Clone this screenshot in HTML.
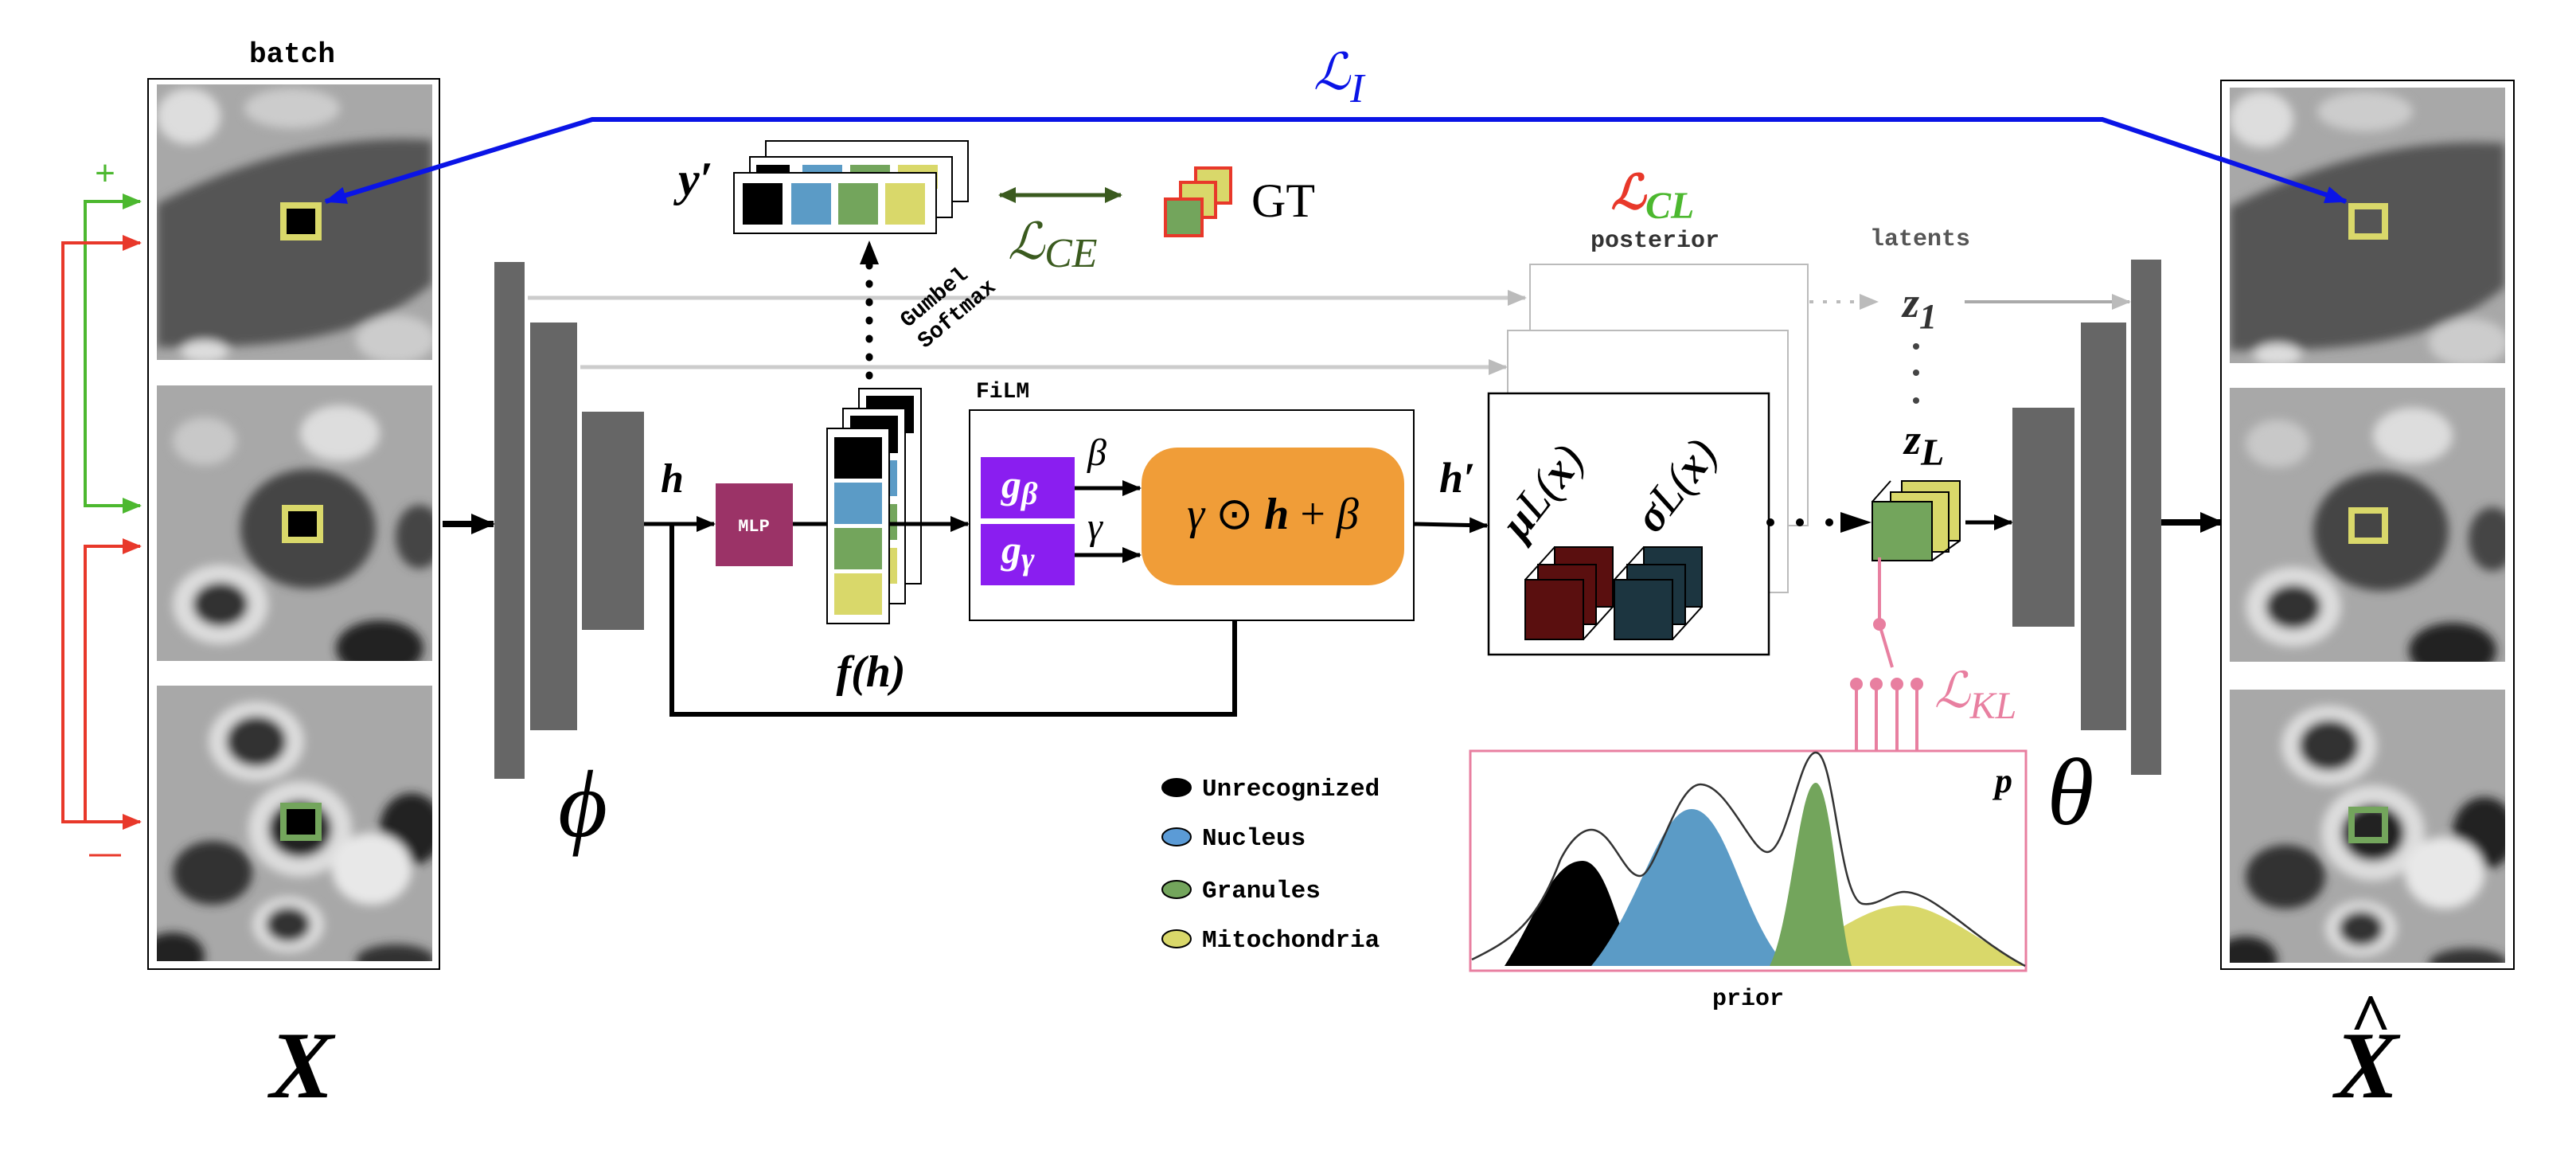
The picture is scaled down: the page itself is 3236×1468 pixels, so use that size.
<!DOCTYPE html>
<html><head><meta charset="utf-8"><style>
html,body{margin:0;padding:0;background:#fff;}
svg{display:block;}
.mono{font-family:"Liberation Mono",monospace;font-weight:bold;}
.m{font-family:"Liberation Serif",serif;font-style:italic;font-weight:bold;}
</style></head><body>
<svg width="3236" height="1468" viewBox="0 0 3236 1468" xmlns="http://www.w3.org/2000/svg">
<defs>
<marker id="akb" markerWidth="30" markerHeight="26" refX="28" refY="13" orient="auto" markerUnits="userSpaceOnUse"><path d="M0,0 L30,13 L0,26z" fill="#000"/></marker>
<marker id="akm" markerWidth="24" markerHeight="20" refX="22" refY="10" orient="auto" markerUnits="userSpaceOnUse"><path d="M0,0 L24,10 L0,20z" fill="#000"/></marker>
<marker id="ag" markerWidth="24" markerHeight="20" refX="22" refY="10" orient="auto" markerUnits="userSpaceOnUse"><path d="M0,0 L24,10 L0,20z" fill="#bbb"/></marker>
<marker id="agr" markerWidth="24" markerHeight="20" refX="22" refY="10" orient="auto" markerUnits="userSpaceOnUse"><path d="M0,0 L24,10 L0,20z" fill="#4cb82f"/></marker>
<marker id="ar" markerWidth="24" markerHeight="20" refX="22" refY="10" orient="auto" markerUnits="userSpaceOnUse"><path d="M0,0 L24,10 L0,20z" fill="#e8382a"/></marker>
<marker id="abl" markerWidth="28" markerHeight="22" refX="26" refY="11" orient="auto" markerUnits="userSpaceOnUse"><path d="M0,0 L28,11 L0,22z" fill="#0a14e6"/></marker>
<marker id="adg" markerWidth="22" markerHeight="20" refX="20" refY="10" orient="auto-start-reverse" markerUnits="userSpaceOnUse"><path d="M0,0 L22,10 L0,20z" fill="#3a5a1e"/></marker>
<filter id="blur"><feGaussianBlur stdDeviation="6"/></filter>
<g id="img1">
<rect width="346" height="346" fill="#a8a8a8"/>
<g filter="url(#blur)">
<ellipse cx="40" cy="40" rx="40" ry="35" fill="#ddd"/>
<ellipse cx="170" cy="30" rx="60" ry="25" fill="#ccc"/>
<path d="M0,150 C80,110 200,60 346,70 L346,250 C250,330 120,330 0,330z" fill="#555"/>
<ellipse cx="300" cy="320" rx="50" ry="30" fill="#ccc"/>
<ellipse cx="60" cy="335" rx="30" ry="14" fill="#ddd"/>
</g></g>
<g id="img2">
<rect width="346" height="346" fill="#a8a8a8"/>
<g filter="url(#blur)">
<ellipse cx="230" cy="60" rx="50" ry="35" fill="#ddd"/>
<ellipse cx="60" cy="70" rx="40" ry="30" fill="#c8c8c8"/>
<ellipse cx="190" cy="180" rx="85" ry="75" fill="#444"/>
<ellipse cx="80" cy="275" rx="60" ry="50" fill="#ddd"/>
<ellipse cx="80" cy="275" rx="35" ry="28" fill="#333"/>
<ellipse cx="280" cy="330" rx="55" ry="35" fill="#222"/>
<ellipse cx="330" cy="190" rx="30" ry="40" fill="#444"/>
</g></g>
<g id="img3">
<rect width="346" height="346" fill="#a8a8a8"/>
<g filter="url(#blur)">
<ellipse cx="125" cy="70" rx="60" ry="50" fill="#ddd"/>
<ellipse cx="125" cy="70" rx="38" ry="32" fill="#333"/>
<ellipse cx="180" cy="180" rx="65" ry="60" fill="#ddd"/>
<ellipse cx="180" cy="180" rx="40" ry="36" fill="#222"/>
<ellipse cx="320" cy="180" rx="40" ry="45" fill="#222"/>
<ellipse cx="270" cy="230" rx="50" ry="45" fill="#e8e8e8"/>
<ellipse cx="70" cy="235" rx="50" ry="40" fill="#333"/>
<ellipse cx="165" cy="300" rx="45" ry="35" fill="#ddd"/>
<ellipse cx="165" cy="300" rx="28" ry="22" fill="#333"/>
<ellipse cx="20" cy="340" rx="40" ry="30" fill="#222"/>
<ellipse cx="300" cy="345" rx="50" ry="20" fill="#333"/>
</g></g>
</defs>

<!-- Left panel -->
<text x="367" y="78" class="mono" font-size="36" text-anchor="middle">batch</text>
<rect x="186" y="99" width="366" height="1118" fill="#fff" stroke="#000" stroke-width="2"/>
<svg x="197" y="106" width="346" height="346"><use href="#img1"/></svg>
<svg x="197" y="484" width="346" height="346"><use href="#img2"/></svg>
<svg x="197" y="861" width="346" height="346"><use href="#img3"/></svg>
<rect x="356" y="258" width="44" height="40" fill="#000" stroke="#d9d86a" stroke-width="8"/>
<rect x="358" y="638" width="44" height="40" fill="#000" stroke="#d9d86a" stroke-width="8"/>
<rect x="356" y="1012" width="44" height="40" fill="#000" stroke="#73a55c" stroke-width="8"/>

<!-- +/- arrows -->
<text x="132" y="232" font-family="Liberation Sans,sans-serif" font-size="44" fill="#4cb82f" text-anchor="middle">+</text>
<line x1="112" y1="1074" x2="152" y2="1074" stroke="#e8382a" stroke-width="3"/>
<polyline points="174,253 107,253 107,635 174,635" fill="none" stroke="#4cb82f" stroke-width="4"/>
<line x1="107" y1="253" x2="176" y2="253" stroke="#4cb82f" stroke-width="4" marker-end="url(#agr)"/>
<line x1="107" y1="635" x2="176" y2="635" stroke="#4cb82f" stroke-width="4" marker-end="url(#agr)"/>
<polyline points="174,305 79,305 79,1032 174,1032" fill="none" stroke="#e8382a" stroke-width="4"/>
<polyline points="174,686 107,686 107,1032" fill="none" stroke="#e8382a" stroke-width="4"/>
<line x1="79" y1="305" x2="176" y2="305" stroke="#e8382a" stroke-width="4" marker-end="url(#ar)"/>
<line x1="107" y1="686" x2="176" y2="686" stroke="#e8382a" stroke-width="4" marker-end="url(#ar)"/>
<line x1="107" y1="1032" x2="176" y2="1032" stroke="#e8382a" stroke-width="4" marker-end="url(#ar)"/>

<text x="379" y="1378" class="m" font-size="120" text-anchor="middle">X</text>

<!-- Blue L_I -->
<polyline points="409,253 744,150 2641,150 2790,200" fill="none" stroke="#0a14e6" stroke-width="6"/>
<line x1="500" y1="225" x2="409" y2="253" stroke="#0a14e6" stroke-width="6" marker-end="url(#abl)"/>
<text x="1650" y="112" font-family="Liberation Serif,serif" font-style="italic" font-size="64" fill="#0a14e6">ℒ<tspan font-size="52" dy="16">I</tspan></text>

<!-- Encoder -->
<line x1="556" y1="658" x2="620" y2="658" stroke="#000" stroke-width="8" marker-end="url(#akb)"/>
<rect x="621" y="329" width="38" height="649" fill="#666"/>
<rect x="666" y="405" width="59" height="512" fill="#666"/>
<rect x="731" y="517" width="78" height="274" fill="#666"/>
<text x="732" y="1050" font-family="Liberation Serif,serif" font-style="italic" font-size="120" text-anchor="middle">ϕ</text>

<!-- gray skip lines -->
<line x1="663" y1="374" x2="1916" y2="374" stroke="#ccc" stroke-width="5" marker-end="url(#ag)"/>
<line x1="729" y1="461" x2="1892" y2="461" stroke="#ccc" stroke-width="5" marker-end="url(#ag)"/>

<!-- h and MLP -->
<text x="830" y="618" class="m" font-size="52">h</text>
<line x1="809" y1="658" x2="897" y2="658" stroke="#000" stroke-width="5" marker-end="url(#akm)"/>
<polyline points="844,658 844,897 1551,897 1551,745" fill="none" stroke="#000" stroke-width="6"/>
<line x1="1551" y1="800" x2="1551" y2="740" stroke="#000" stroke-width="6" marker-end="url(#akm)"/>
<rect x="899" y="607" width="97" height="104" fill="#9b3367"/>
<text x="947" y="667" font-family="Liberation Mono,monospace" font-weight="bold" font-size="22" fill="#fff" text-anchor="middle">MLP</text>
<line x1="996" y1="658" x2="1039" y2="658" stroke="#000" stroke-width="5"/>

<!-- f(h) stack -->
<g stroke="#000" stroke-width="2">
<rect x="1079" y="488" width="78" height="245" fill="#fff"/>
<rect x="1089" y="498" width="58" height="45" fill="#000"/>
<rect x="1059" y="513" width="78" height="245" fill="#fff"/>
<rect x="1069" y="523" width="58" height="45" fill="#000"/>
<rect x="1069" y="578" width="58" height="45" fill="#5b9bc6" stroke="none"/>
<rect x="1069" y="633" width="58" height="45" fill="#73a55c" stroke="none"/>
<rect x="1069" y="688" width="58" height="45" fill="#d9d86a" stroke="none"/>
<rect x="1039" y="538" width="78" height="245" fill="#fff"/>
<rect x="1048" y="549" width="60" height="52" fill="#000" stroke="none"/>
<rect x="1048" y="606" width="60" height="52" fill="#5b9bc6" stroke="none"/>
<rect x="1048" y="663" width="60" height="52" fill="#73a55c" stroke="none"/>
<rect x="1048" y="720" width="60" height="52" fill="#d9d86a" stroke="none"/>
</g>
<text x="1094" y="862" class="m" font-size="56" text-anchor="middle">f(h)</text>
<line x1="1117" y1="658" x2="1216" y2="658" stroke="#000" stroke-width="5" marker-end="url(#akm)"/>

<!-- Gumbel dotted -->
<line x1="1092" y1="472" x2="1092" y2="330" stroke="#000" stroke-width="9" stroke-dasharray="1 22" stroke-linecap="round"/>
<path d="M1080,332 L1092,302 L1104,332z" fill="#000"/>
<g transform="translate(1140,412) rotate(-40)" class="mono" font-size="28">
<text x="0" y="0">Gumbel</text><text x="0" y="34">Softmax</text></g>

<!-- y' cards -->
<g stroke="#000" stroke-width="2">
<rect x="962" y="177" width="254" height="76" fill="#fff"/>
<rect x="942" y="197" width="254" height="76" fill="#fff"/>
<rect x="950" y="207" width="42" height="12" fill="#000" stroke="none"/>
<rect x="1008" y="207" width="50" height="12" fill="#5b9bc6" stroke="none"/>
<rect x="1068" y="207" width="50" height="12" fill="#73a55c" stroke="none"/>
<rect x="1128" y="207" width="50" height="30" fill="#d9d86a" stroke="none"/>
<rect x="922" y="217" width="254" height="76" fill="#fff"/>
<rect x="933" y="230" width="50" height="52" fill="#000" stroke="none"/>
<rect x="994" y="230" width="50" height="52" fill="#5b9bc6" stroke="none"/>
<rect x="1053" y="230" width="50" height="52" fill="#73a55c" stroke="none"/>
<rect x="1112" y="230" width="50" height="52" fill="#d9d86a" stroke="none"/>
</g>
<text x="852" y="245" class="m" font-size="60">y′</text>

<!-- L_CE and GT -->
<line x1="1256" y1="245" x2="1408" y2="245" stroke="#3a5a1e" stroke-width="5" marker-start="url(#adg)" marker-end="url(#adg)"/>
<text x="1266" y="325" font-family="Liberation Serif,serif" font-style="italic" font-size="64" fill="#3a5a1e">ℒ<tspan font-size="52" dy="10">CE</tspan></text>
<rect x="1502" y="211" width="44" height="44" fill="#d9d86a" stroke="#e8382a" stroke-width="4"/>
<rect x="1483" y="229" width="44" height="44" fill="#d9d86a" stroke="#e8382a" stroke-width="4"/>
<rect x="1464" y="250" width="46" height="46" fill="#73a55c" stroke="#e8382a" stroke-width="4"/>
<text x="1572" y="272" font-family="Liberation Serif,serif" font-size="60">GT</text>

<!-- FiLM -->
<text x="1226" y="499" class="mono" font-size="28">FiLM</text>
<rect x="1218" y="515" width="558" height="264" fill="#fff" stroke="#000" stroke-width="2"/>
<rect x="1232" y="574" width="118" height="77" fill="#8a1ef0"/>
<rect x="1232" y="658" width="118" height="77" fill="#8a1ef0"/>
<text x="1258" y="625" class="m" font-size="50" fill="#fff">g<tspan font-size="40" dy="8">β</tspan></text>
<text x="1258" y="707" class="m" font-size="50" fill="#fff">g<tspan font-size="40" dy="8">γ</tspan></text>
<line x1="1350" y1="613" x2="1432" y2="613" stroke="#000" stroke-width="5" marker-end="url(#akm)"/>
<line x1="1350" y1="697" x2="1432" y2="697" stroke="#000" stroke-width="5" marker-end="url(#akm)"/>
<text x="1366" y="584" font-family="Liberation Serif,serif" font-style="italic" font-size="48">β</text>
<text x="1366" y="677" font-family="Liberation Serif,serif" font-style="italic" font-size="48">γ</text>
<rect x="1434" y="562" width="330" height="173" rx="45" fill="#f09d38"/>
<text x="1599" y="664" font-family="Liberation Serif,serif" font-style="italic" font-size="56" text-anchor="middle">γ <tspan font-style="normal">⊙</tspan> <tspan font-weight="bold">h</tspan> <tspan font-style="normal">+</tspan> β</text>

<!-- h' -->
<line x1="1776" y1="658" x2="1868" y2="660" stroke="#000" stroke-width="5" marker-end="url(#akm)"/>
<text x="1808" y="618" class="m" font-size="54">h′</text>

<!-- posterior -->
<text x="2076" y="262" font-family="Liberation Serif,serif" font-style="italic" font-weight="bold" font-size="60" fill="#e8382a" text-anchor="middle">ℒ<tspan font-size="48" dy="12" fill="#4cb82f">CL</tspan></text>
<text x="2079" y="310" class="mono" font-size="30" fill="#333" text-anchor="middle" font-weight="normal">posterior</text>
<rect x="1922" y="332" width="349" height="328" fill="#fff" stroke="#bbb" stroke-width="2"/>
<rect x="1894" y="415" width="352" height="329" fill="#fff" stroke="#bbb" stroke-width="2"/>
<rect x="1870" y="494" width="352" height="328" fill="#fff" stroke="#000" stroke-width="2.5"/>
<g transform="translate(1912,680) rotate(-52)"><text class="m" font-size="56">μ<tspan font-weight="normal" font-size="58">L(</tspan>x<tspan font-weight="normal" font-size="58">)</tspan></text></g>
<g transform="translate(2080,672) rotate(-52)"><text class="m" font-size="56">σ<tspan font-weight="normal" font-size="58">L(</tspan>x<tspan font-weight="normal" font-size="58">)</tspan></text></g>
<g stroke="#000" stroke-width="2">
<rect x="1953" y="687" width="73" height="75" fill="#5a0f0f"/>
<rect x="1932" y="709" width="73" height="75" fill="#5a0f0f"/>
<rect x="1916" y="728" width="73" height="75" fill="#5a0f0f"/>
<line x1="1916" y1="728" x2="1953" y2="687"/><line x1="1989" y1="803" x2="2026" y2="762"/>
<rect x="2065" y="687" width="73" height="75" fill="#1c3540"/>
<rect x="2044" y="709" width="73" height="75" fill="#1c3540"/>
<rect x="2028" y="728" width="73" height="75" fill="#1c3540"/>
<line x1="2028" y1="728" x2="2065" y2="687"/><line x1="2101" y1="803" x2="2138" y2="762"/>
</g>

<!-- dots to zL -->
<circle cx="2224" cy="656" r="5"/><circle cx="2261" cy="656" r="5"/><circle cx="2298" cy="656" r="5"/>
<path d="M2312,643 L2351,656 L2312,669z" fill="#000"/>
<text x="2412" y="308" class="mono" font-size="30" fill="#555" text-anchor="middle" font-weight="normal">latents</text>
<line x1="2273" y1="379" x2="2330" y2="379" stroke="#bbb" stroke-width="4" stroke-dasharray="5 12"/>
<path d="M2336,369 L2360,379 L2336,389z" fill="#bbb"/>
<text x="2390" y="398" class="m" font-size="54" fill="#333">z<tspan font-size="44" dy="14">1</tspan></text>
<line x1="2468" y1="379" x2="2675" y2="379" stroke="#aaa" stroke-width="4" marker-end="url(#ag)"/>
<circle cx="2407" cy="435" r="4" fill="#444"/><circle cx="2407" cy="468" r="4" fill="#444"/><circle cx="2407" cy="503" r="4" fill="#444"/>
<text x="2392" y="570" class="m" font-size="54">z<tspan font-size="48" dy="14">L</tspan></text>
<g stroke="#000" stroke-width="2">
<rect x="2389" y="604" width="73" height="75" fill="#d9d86a"/>
<rect x="2375" y="618" width="73" height="75" fill="#d9d86a"/>
<line x1="2352" y1="630" x2="2375" y2="604"/><line x1="2427" y1="704" x2="2462" y2="679"/>
<rect x="2352" y="630" width="75" height="74" fill="#73a55c"/>
</g>
<line x1="2469" y1="656" x2="2527" y2="656" stroke="#000" stroke-width="5" marker-end="url(#akm)"/>

<!-- KL -->
<g stroke="#e87fa0" stroke-width="4" fill="#e87fa0">
<polyline points="2361,700 2361,784 2377,838" fill="none"/>
<circle cx="2361" cy="784" r="6"/>
<line x1="2332" y1="859" x2="2332" y2="943"/><circle cx="2332" cy="859" r="6"/>
<line x1="2357" y1="859" x2="2357" y2="943"/><circle cx="2357" cy="859" r="6"/>
<line x1="2383" y1="859" x2="2383" y2="943"/><circle cx="2383" cy="859" r="6"/>
<line x1="2408" y1="859" x2="2408" y2="943"/><circle cx="2408" cy="859" r="6"/>
</g>
<text x="2430" y="888" font-family="Liberation Serif,serif" font-style="italic" font-size="62" fill="#e87fa0">ℒ<tspan font-size="48" dy="14">KL</tspan></text>

<!-- Decoder -->
<rect x="2528" y="512" width="78" height="275" fill="#666"/>
<rect x="2614" y="405" width="57" height="512" fill="#666"/>
<rect x="2677" y="326" width="38" height="647" fill="#666"/>
<text x="2601" y="1035" font-family="Liberation Serif,serif" font-style="italic" font-size="120" text-anchor="middle">θ</text>
<line x1="2715" y1="656" x2="2792" y2="656" stroke="#000" stroke-width="8" marker-end="url(#akb)"/>

<!-- Right panel -->
<rect x="2790" y="101" width="368" height="1116" fill="#fff" stroke="#000" stroke-width="2"/>
<svg x="2801" y="110" width="346" height="346"><use href="#img1"/></svg>
<svg x="2801" y="487" width="346" height="344"><use href="#img2"/></svg>
<svg x="2801" y="866" width="346" height="343"><use href="#img3"/></svg>
<rect x="2954" y="259" width="42" height="38" fill="none" stroke="#d9d86a" stroke-width="8"/>
<rect x="2954" y="641" width="42" height="38" fill="none" stroke="#d9d86a" stroke-width="8"/>
<rect x="2954" y="1017" width="42" height="38" fill="none" stroke="#73a55c" stroke-width="8"/>
<line x1="2785" y1="198" x2="2947" y2="253" stroke="#0a14e6" stroke-width="6" marker-end="url(#abl)"/>
<text x="2973" y="1378" class="m" font-size="120" text-anchor="middle">X</text>
<text x="2978" y="1310" font-family="Liberation Serif,serif" font-weight="bold" font-size="90" text-anchor="middle">^</text>

<!-- Legend -->
<g stroke="#000" stroke-width="2">
<ellipse cx="1478" cy="989" rx="18" ry="11" fill="#000"/>
<ellipse cx="1478" cy="1051" rx="18" ry="11" fill="#5b9bd6"/>
<ellipse cx="1478" cy="1117" rx="18" ry="11" fill="#73a55c"/>
<ellipse cx="1478" cy="1179" rx="18" ry="11" fill="#d9d86a"/>
</g>
<g class="mono" font-size="31">
<text x="1510" y="999">Unrecognized</text>
<text x="1510" y="1061">Nucleus</text>
<text x="1510" y="1127">Granules</text>
<text x="1510" y="1189">Mitochondria</text>
</g>

<!-- Prior -->
<rect x="1847" y="943" width="698" height="276" fill="#fff" stroke="#e87fa0" stroke-width="3"/>
<path d="M1890,1213 C1930,1150 1950,1081 1988,1081 C2020,1081 2035,1180 2055,1213z" fill="#000"/>
<path d="M1999,1213 C2060,1140 2085,1016 2125,1016 C2170,1016 2190,1160 2245,1213z" fill="#5b9bc6"/>
<path d="M2240,1213 C2330,1150 2360,1137 2392,1137 C2430,1137 2470,1170 2544,1213z" fill="#d9d86a"/>
<path d="M2223,1213 C2250,1160 2260,983 2281,983 C2300,983 2310,1160 2326,1213z" fill="#73a55c"/>
<path d="M1849,1205 C1900,1180 1930,1160 1960,1080 C1975,1050 1990,1042 1999,1042 C2025,1042 2040,1100 2060,1100 C2080,1100 2105,985 2136,985 C2170,985 2200,1070 2220,1070 C2245,1070 2260,945 2281,945 C2305,945 2310,1130 2340,1135 C2360,1138 2375,1120 2392,1120 C2430,1120 2480,1180 2544,1213" fill="none" stroke="#333" stroke-width="2.5"/>
<text x="2517" y="995" class="m" font-size="44" text-anchor="middle">p</text>
<text x="2196" y="1262" class="mono" font-size="30" text-anchor="middle">prior</text>
</svg>
</body></html>
